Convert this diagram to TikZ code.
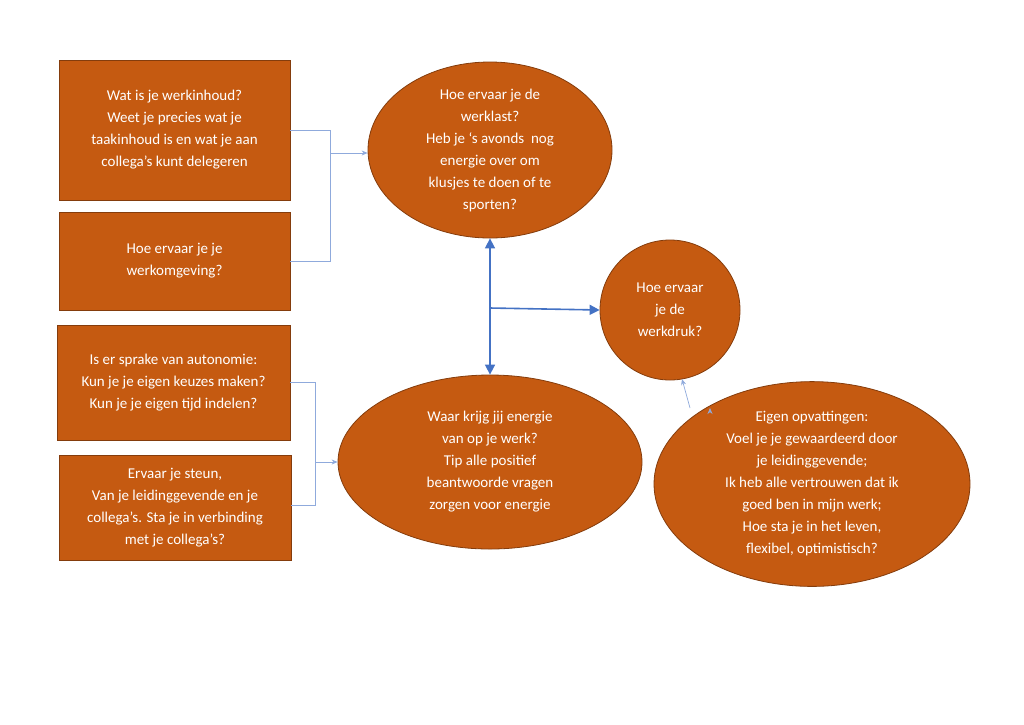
\documentclass[tikz,border=0pt]{standalone}
\usepackage{fontspec}
\setmainfont{Carlito}
\usetikzlibrary{shapes.geometric,arrows.meta}
\definecolor{fillo}{HTML}{C55A11}
\definecolor{edgeo}{HTML}{843C0C}
\definecolor{lnk}{HTML}{8FAADC}
\definecolor{blu}{HTML}{4472C4}
\begin{document}
\begin{tikzpicture}[x=1pt,y=-1pt,
  every node/.style={font=\fontsize{15}{22}\selectfont,text=white,align=center,fill=fillo,draw=edgeo,line width=0.8pt,inner sep=0pt},
  box/.style={rectangle},
  thin/.style={draw=lnk,line width=0.7pt},
  thick/.style={draw=blu,line width=1.6pt}]
\useasboundingbox (0,0) rectangle (1024,724);
\node[box,minimum width=231pt,minimum height=140pt] (b1) at (174.5,130) {Wat is je werkinhoud?\\Weet je precies wat je\\taakinhoud is en wat je aan\\collega’s kunt delegeren};
\node[box,minimum width=231pt,minimum height=98pt] (b2) at (174.5,261) {Hoe ervaar je je\\werkomgeving?};
\node[box,minimum width=233pt,minimum height=115pt] (b3) at (173.5,382.5) {Is er sprake van autonomie:\\Kun je je eigen keuzes maken?\\Kun je je eigen tijd indelen?};
\node[box,minimum width=232pt,minimum height=105pt] (b4) at (175,507.5) {Ervaar je steun,\\Van je leidinggevende en je\\collega’s. Sta je in verbinding\\met je collega’s?};
\node[ellipse,minimum width=244pt,minimum height=176pt] (A) at (490,150) {Hoe ervaar je de\\werklast?\\Heb je ‘s avonds\ \ nog\\energie over om\\klusjes te doen of te\\sporten?};
\node[ellipse,minimum width=304pt,minimum height=174pt] (B) at (490,462) {Waar krijg jij energie\\van op je werk?\\Tip alle positief\\beantwoorde vragen\\zorgen voor energie};
\node[circle,minimum size=140pt] (C) at (670,310) {Hoe ervaar\\je de\\werkdruk?};
\node[ellipse,minimum width=316pt,minimum height=170pt] (D) at (812,484) {Eigen opvattingen:\\Voel je je gewaardeerd door\\je leidinggevende;\\Ik heb alle vertrouwen dat ik\\goed ben in mijn werk;\\Hoe sta je in het leven,\\flexibel, optimistisch?};
\coordinate (j1) at (330,153);
\coordinate (j2) at (315,462);
\coordinate (m) at (490,308);
\draw[thin] (b1.east |- 0,130) -| (j1) (b2.east) -| (j1);
\draw[thin,-{Stealth[length=6pt,width=5pt]}] (j1) -- (A.west |- j1);
\draw[thin] (b3.east) -| (j2) (b4.east |- 0,505) -| (j2);
\draw[thin,-{Stealth[length=6pt,width=5pt]}] (j2) -- (B.west);
\draw[thick,{Triangle[length=10pt,width=10pt]}-{Triangle[length=10pt,width=10pt]}] (A.south) -- (B.north);
\draw[thick,-{Triangle[length=10pt,width=10pt]}] (m) -- (C.west);
\draw[thin,-{Stealth[length=6pt,width=5pt]}] (D.north west |- 0,408) ++(10,0) coordinate (d0);
\draw[thin,-{Stealth[length=6pt,width=5pt]}] (690,408) -- (682,379);
\end{tikzpicture}
\end{document}
